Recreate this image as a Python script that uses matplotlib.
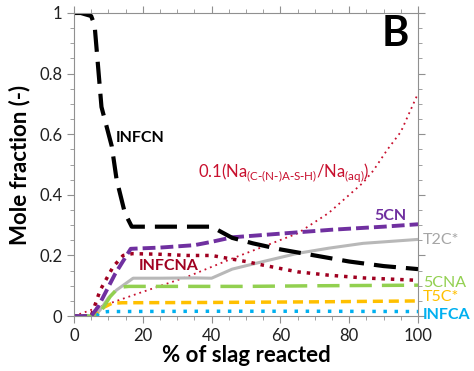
import numpy as np
import matplotlib
matplotlib.use("Agg")
import matplotlib.pyplot as plt
from matplotlib.ticker import MultipleLocator

# series (x = % of slag reacted, y = mole fraction)
infcn_x = [0, 2, 5, 6, 8, 11, 12.4, 14.8, 16.8, 25, 40, 46, 52, 60, 70, 80, 90, 100]
infcn_y = [1.0, 1.0, 0.99, 0.96, 0.69, 0.56, 0.45, 0.34, 0.295, 0.295, 0.295, 0.258, 0.24, 0.22, 0.2, 0.18, 0.165, 0.155]

cn5_x = [0, 5, 7, 12, 16.5, 25, 35, 40, 46, 52, 60, 75, 90, 100]
cn5_y = [0, 0, 0.03, 0.14, 0.222, 0.226, 0.234, 0.245, 0.26, 0.265, 0.272, 0.285, 0.295, 0.303]

infcna_x = [0, 5, 7.6, 11.4, 14.3, 17, 25, 33, 40, 45, 50, 55, 65, 74, 84, 100]
infcna_y = [0, 0, 0.085, 0.163, 0.2, 0.206, 0.204, 0.2, 0.2, 0.19, 0.18, 0.168, 0.146, 0.135, 0.126, 0.118]

na_x = [0, 7.6, 20, 33, 46, 55, 65, 74, 81, 84, 87, 91, 95, 100]
na_y = [0, 0.031, 0.08, 0.13, 0.19, 0.229, 0.273, 0.34, 0.41, 0.44, 0.48, 0.548, 0.608, 0.735]

t2c_x = [0, 6, 7.6, 10, 12.4, 17.2, 25, 35, 40, 46, 55, 65, 74, 84, 100]
t2c_y = [0, 0, 0.02, 0.06, 0.086, 0.125, 0.125, 0.126, 0.125, 0.155, 0.18, 0.207, 0.224, 0.24, 0.253]

cna5_x = [0, 7, 10.5, 13, 16, 30, 50, 70, 100]
cna5_y = [0, 0, 0.064, 0.095, 0.098, 0.098, 0.098, 0.1, 0.102]

t5c_x = [0, 6, 8, 11, 14, 40, 70, 100]
t5c_y = [0, 0, 0.025, 0.042, 0.044, 0.045, 0.047, 0.05]

infca_x = [0, 6.5, 7.5, 10, 40, 70, 100]
infca_y = [0, 0, 0.012, 0.015, 0.016, 0.016, 0.015]

plt.rcParams['font.family'] = ['Lato', 'DejaVu Sans']

fig = plt.figure(figsize=(4.74, 3.71), dpi=100)
ax = fig.add_axes([0.156, 0.148, 0.726, 0.817])

ax.plot(na_x, na_y, color='#c8102e', lw=1.3, ls=(0, (1, 2.2)))
ax.plot(t2c_x, t2c_y, color='#b8b8b8', lw=2.2)
ax.plot(t5c_x, t5c_y, color='#ffc000', lw=2.5, ls=(0, (2.9, 1.7)))
ax.plot(infca_x, infca_y, color='#00b0f0', lw=2.5, ls=(0, (1, 2.2)))
ax.plot(cna5_x, cna5_y, color='#92d050', lw=2.5, ls=(0, (6.4, 2.9)))
ax.plot(infcna_x, infcna_y, color='#a00020', lw=2.5, ls=(0, (1, 1.7)))
ax.plot(cn5_x, cn5_y, color='#7030a0', lw=2.8, ls=(0, (3.3, 1.3)))
ax.plot(infcn_x, infcn_y, color='black', lw=3, ls=(0, (5.3, 2.4)))

ax.set_xlim(0, 100)
ax.set_ylim(0, 1)
ax.xaxis.set_major_locator(MultipleLocator(20))
ax.xaxis.set_minor_locator(MultipleLocator(5))
ax.yaxis.set_major_locator(MultipleLocator(0.2))
ax.yaxis.set_minor_locator(MultipleLocator(0.05))
ax.set_yticks([0, 0.2, 0.4, 0.6, 0.8, 1.0], ['0', '0.2', '0.4', '0.6', '0.8', '1'])
ax.tick_params(which='both', direction='out', top=True, right=True,
               color='#909090', labelsize=12, labelcolor='#202020')
ax.tick_params(which='major', length=5)
ax.tick_params(which='minor', length=3)
for s in ax.spines.values():
    s.set_color('#909090')

ax.set_xlabel('% of slag reacted', fontsize=16, fontweight='bold', labelpad=1)
ax.set_ylabel('Mole fraction (-)', fontsize=16, fontweight='bold', labelpad=6)

ax.text(12.2, 0.587, 'INFCN', fontsize=11.5, fontweight='bold', va='center')
ax.text(36, 0.475, r'0.1(Na$_{\mathregular{(C\text{-}(N\text{-})A\text{-}S\text{-}H)}}$/Na$_{\mathregular{(aq)}}$)',
        color='#c8102e', fontsize=12, va='center')
ax.text(96.5, 0.33, '5CN', color='#7030a0', fontsize=11.5, fontweight='bold', ha='right', va='center')
ax.text(18.7, 0.165, 'INFCNA', color='#a00020', fontsize=11.5, fontweight='bold', va='center')
ax.text(101.5, 0.25, 'T2C*', color='#a6a6a6', fontsize=11.5, va='center', clip_on=False)
ax.text(101.5, 0.108, '5CNA', color='#92d050', fontsize=11.5, va='center', clip_on=False)
ax.text(101.5, 0.063, 'T5C*', color='#ffc000', fontsize=11.5, va='center', clip_on=False)
ax.text(101.5, 0.004, 'INFCA', color='#00b0f0', fontsize=11.5, fontweight='bold', va='center', clip_on=False)
ax.text(97.5, 0.93, 'B', fontsize=30, fontweight='bold', ha='right', va='center')

fig.savefig('out.png', dpi=100)
